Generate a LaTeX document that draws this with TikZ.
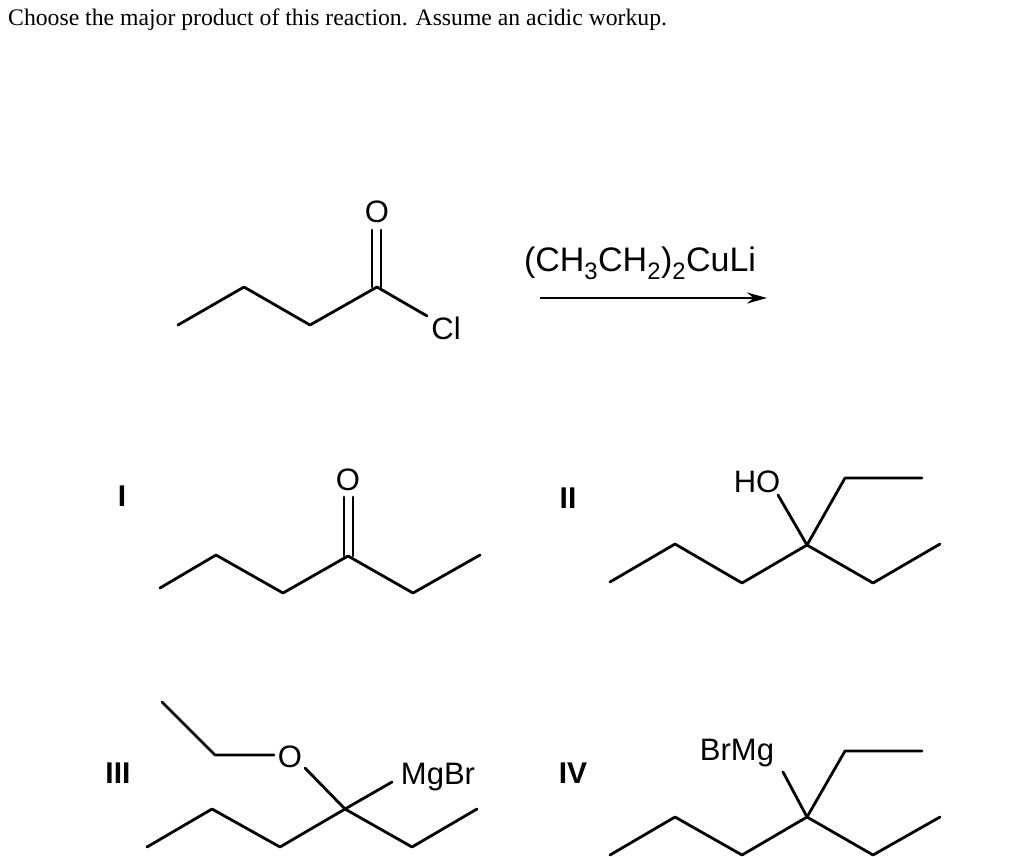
\documentclass[tikz,border=0pt]{standalone}
\usepackage{fontspec}
\setmainfont{Liberation Serif}
\setsansfont{Liberation Sans}
\usetikzlibrary{arrows.meta}
\begin{document}
\begin{tikzpicture}[x=1pt,y=-1pt,
  bond/.style={line width=2.8pt,line cap=round,line join=round},
  atom/.style={font=\sffamily\fontsize{31}{31}\selectfont,inner sep=0pt},
  lab/.style={font=\sffamily\bfseries\fontsize{30}{30}\selectfont,inner sep=0pt}]
\useasboundingbox (0,0) rectangle (1024,856);
\node[anchor=base west,inner sep=0pt,font=\fontsize{23.7}{24}\selectfont] (title) at (8,26) {Choose the major product of this reaction. Assume an acidic workup.};
% reactant
\coordinate (r1) at (178,325); \coordinate (r2) at (244,287); \coordinate (r3) at (310,325); \coordinate (r4) at (377,287);
\node[atom] (rO) at (377,212) {O};
\node[atom] (rCl) at (446,328) {Cl};
\draw[bond] (r1)--(r2)--(r3)--(r4)--(427,316);
\draw[bond] (372,287)--(372,230) (381,287)--(381,230);
% arrow
\coordinate (a1) at (540,298); \coordinate (a2) at (767,298);
\draw[line width=2.4pt,-{Stealth[length=20pt,width=11pt]}] (a1)--(a2);
\node[atom,font=\sffamily\fontsize{34}{34}\selectfont] (reag) at (640,263) {(CH\textsubscript{3}CH\textsubscript{2})\textsubscript{2}CuLi};
% I
\node[lab] (L1) at (122,496) {I};
\coordinate (p1) at (160,588); \coordinate (p2) at (216,555); \coordinate (p3) at (283,593); \coordinate (p4) at (348,556); \coordinate (p5) at (413,593); \coordinate (p6) at (480,555);
\draw[bond] (p1)--(p2)--(p3)--(p4)--(p5)--(p6);
\draw[bond] (344,556)--(344,497) (353,556)--(353,497);
\node[atom] (pO) at (348,480) {O};
% II
\node[lab] (L2) at (568,498) {II};
\coordinate (q1) at (610,582); \coordinate (q2) at (675,544); \coordinate (q3) at (742,583); \coordinate (q4) at (807,545); \coordinate (q5) at (873,583); \coordinate (q6) at (940,544); \coordinate (q7) at (845,478); \coordinate (q8) at (922,478);
\draw[bond] (q1)--(q2)--(q3)--(q4)--(q5)--(q6);
\draw[bond] (q4)--(q7)--(q8);
\draw[bond] (q4)--(778,495);
\node[atom] (HO) at (757,482) {HO};
% III
\node[lab] (L3) at (118,773) {III};
\coordinate (s1) at (147,847); \coordinate (s2) at (212,809); \coordinate (s3) at (280,847); \coordinate (s4) at (345,809); \coordinate (s5) at (412,847); \coordinate (s6) at (477,809);
\coordinate (e1) at (162,702); \coordinate (e2) at (215,755);
\draw[bond] (s1)--(s2)--(s3)--(s4)--(s5)--(s6);
\draw[bond] (e1)--(e2)--(274,755);
\node[atom] (sO) at (290,757) {O};
\draw[bond] (305,768)--(s4)--(392,782);
\node[atom] (MgBr) at (438,777) {MgBr};
% IV
\node[lab] (L4) at (573,773) {IV};
\coordinate (t1) at (610,855); \coordinate (t2) at (675,817); \coordinate (t3) at (742,855); \coordinate (t4) at (807,817); \coordinate (t5) at (873,855); \coordinate (t6) at (940,817); \coordinate (t7) at (845,751); \coordinate (t8) at (922,751);
\draw[bond] (t1)--(t2)--(t3)--(t4)--(t5)--(t6);
\draw[bond] (t4)--(t7)--(t8);
\draw[bond] (t4)--(783,772);
\node[atom] (BrMg) at (737,753) {BrMg};
\end{tikzpicture}
\end{document}
